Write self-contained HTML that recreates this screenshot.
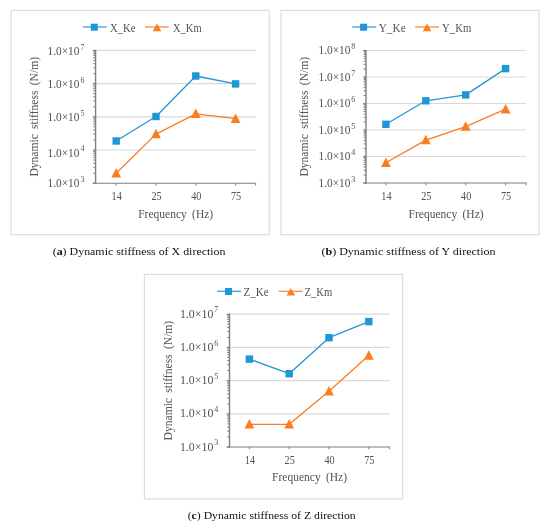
<!DOCTYPE html>
<html><head><meta charset="utf-8"><title>Dynamic stiffness</title>
<style>html,body{margin:0;padding:0;background:#fff}svg{display:block;font-family:"Liberation Serif", serif}</style></head>
<body><svg width="550" height="529" viewBox="0 0 550 529">
<rect width="550" height="529" fill="#fff"/>
<rect x="11.1" y="10.4" width="258.09999999999997" height="224.29999999999998" fill="#fff" stroke="#dcdcdc" stroke-width="1.15"/>
<line x1="95.6" y1="50.40" x2="255.6" y2="50.40" stroke="#d9d9d9" stroke-width="1.2"/>
<line x1="95.6" y1="83.60" x2="255.6" y2="83.60" stroke="#d9d9d9" stroke-width="1.2"/>
<line x1="95.6" y1="116.80" x2="255.6" y2="116.80" stroke="#d9d9d9" stroke-width="1.2"/>
<line x1="95.6" y1="150.00" x2="255.6" y2="150.00" stroke="#d9d9d9" stroke-width="1.2"/>
<line x1="93.3" y1="173.21" x2="95.6" y2="173.21" stroke="#7f7f7f" stroke-width="1.05"/>
<line x1="93.3" y1="167.36" x2="95.6" y2="167.36" stroke="#7f7f7f" stroke-width="1.05"/>
<line x1="93.3" y1="163.21" x2="95.6" y2="163.21" stroke="#7f7f7f" stroke-width="1.05"/>
<line x1="93.3" y1="159.99" x2="95.6" y2="159.99" stroke="#7f7f7f" stroke-width="1.05"/>
<line x1="93.3" y1="157.37" x2="95.6" y2="157.37" stroke="#7f7f7f" stroke-width="1.05"/>
<line x1="93.3" y1="155.14" x2="95.6" y2="155.14" stroke="#7f7f7f" stroke-width="1.05"/>
<line x1="93.3" y1="153.22" x2="95.6" y2="153.22" stroke="#7f7f7f" stroke-width="1.05"/>
<line x1="93.3" y1="151.52" x2="95.6" y2="151.52" stroke="#7f7f7f" stroke-width="1.05"/>
<line x1="93.3" y1="140.01" x2="95.6" y2="140.01" stroke="#7f7f7f" stroke-width="1.05"/>
<line x1="93.3" y1="134.16" x2="95.6" y2="134.16" stroke="#7f7f7f" stroke-width="1.05"/>
<line x1="93.3" y1="130.01" x2="95.6" y2="130.01" stroke="#7f7f7f" stroke-width="1.05"/>
<line x1="93.3" y1="126.79" x2="95.6" y2="126.79" stroke="#7f7f7f" stroke-width="1.05"/>
<line x1="93.3" y1="124.17" x2="95.6" y2="124.17" stroke="#7f7f7f" stroke-width="1.05"/>
<line x1="93.3" y1="121.94" x2="95.6" y2="121.94" stroke="#7f7f7f" stroke-width="1.05"/>
<line x1="93.3" y1="120.02" x2="95.6" y2="120.02" stroke="#7f7f7f" stroke-width="1.05"/>
<line x1="93.3" y1="118.32" x2="95.6" y2="118.32" stroke="#7f7f7f" stroke-width="1.05"/>
<line x1="93.3" y1="106.81" x2="95.6" y2="106.81" stroke="#7f7f7f" stroke-width="1.05"/>
<line x1="93.3" y1="100.96" x2="95.6" y2="100.96" stroke="#7f7f7f" stroke-width="1.05"/>
<line x1="93.3" y1="96.81" x2="95.6" y2="96.81" stroke="#7f7f7f" stroke-width="1.05"/>
<line x1="93.3" y1="93.59" x2="95.6" y2="93.59" stroke="#7f7f7f" stroke-width="1.05"/>
<line x1="93.3" y1="90.97" x2="95.6" y2="90.97" stroke="#7f7f7f" stroke-width="1.05"/>
<line x1="93.3" y1="88.74" x2="95.6" y2="88.74" stroke="#7f7f7f" stroke-width="1.05"/>
<line x1="93.3" y1="86.82" x2="95.6" y2="86.82" stroke="#7f7f7f" stroke-width="1.05"/>
<line x1="93.3" y1="85.12" x2="95.6" y2="85.12" stroke="#7f7f7f" stroke-width="1.05"/>
<line x1="93.3" y1="73.61" x2="95.6" y2="73.61" stroke="#7f7f7f" stroke-width="1.05"/>
<line x1="93.3" y1="67.76" x2="95.6" y2="67.76" stroke="#7f7f7f" stroke-width="1.05"/>
<line x1="93.3" y1="63.61" x2="95.6" y2="63.61" stroke="#7f7f7f" stroke-width="1.05"/>
<line x1="93.3" y1="60.39" x2="95.6" y2="60.39" stroke="#7f7f7f" stroke-width="1.05"/>
<line x1="93.3" y1="57.77" x2="95.6" y2="57.77" stroke="#7f7f7f" stroke-width="1.05"/>
<line x1="93.3" y1="55.54" x2="95.6" y2="55.54" stroke="#7f7f7f" stroke-width="1.05"/>
<line x1="93.3" y1="53.62" x2="95.6" y2="53.62" stroke="#7f7f7f" stroke-width="1.05"/>
<line x1="93.3" y1="51.92" x2="95.6" y2="51.92" stroke="#7f7f7f" stroke-width="1.05"/>
<line x1="92.8" y1="50.40" x2="95.6" y2="50.40" stroke="#7f7f7f" stroke-width="1.2"/>
<line x1="92.8" y1="83.60" x2="95.6" y2="83.60" stroke="#7f7f7f" stroke-width="1.2"/>
<line x1="92.8" y1="116.80" x2="95.6" y2="116.80" stroke="#7f7f7f" stroke-width="1.2"/>
<line x1="92.8" y1="150.00" x2="95.6" y2="150.00" stroke="#7f7f7f" stroke-width="1.2"/>
<line x1="92.8" y1="183.20" x2="95.6" y2="183.20" stroke="#7f7f7f" stroke-width="1.2"/>
<line x1="95.6" y1="49.9" x2="95.6" y2="183.7" stroke="#7f7f7f" stroke-width="1.4"/>
<line x1="93.0" y1="183.2" x2="256.1" y2="183.2" stroke="#7f7f7f" stroke-width="1.1"/>
<line x1="116.2" y1="183.2" x2="116.2" y2="185.5" stroke="#7f7f7f" stroke-width="1"/>
<line x1="156.0" y1="183.2" x2="156.0" y2="185.5" stroke="#7f7f7f" stroke-width="1"/>
<line x1="195.8" y1="183.2" x2="195.8" y2="185.5" stroke="#7f7f7f" stroke-width="1"/>
<line x1="235.6" y1="183.2" x2="235.6" y2="185.5" stroke="#7f7f7f" stroke-width="1"/>
<line x1="255.6" y1="183.2" x2="255.6" y2="185.5" stroke="#7f7f7f" stroke-width="1"/>
<text x="47.50" y="54.90" font-size="12.9" fill="#525252" textLength="32" lengthAdjust="spacingAndGlyphs">1.0×10</text>
<text x="80.40" y="49.60" font-size="8" fill="#525252">7</text>
<text x="47.50" y="88.00" font-size="12.9" fill="#525252" textLength="32" lengthAdjust="spacingAndGlyphs">1.0×10</text>
<text x="80.40" y="82.70" font-size="8" fill="#525252">6</text>
<text x="47.50" y="120.90" font-size="12.9" fill="#525252" textLength="32" lengthAdjust="spacingAndGlyphs">1.0×10</text>
<text x="80.40" y="115.60" font-size="8" fill="#525252">5</text>
<text x="47.50" y="156.50" font-size="12.9" fill="#525252" textLength="32" lengthAdjust="spacingAndGlyphs">1.0×10</text>
<text x="80.40" y="151.20" font-size="8" fill="#525252">4</text>
<text x="47.50" y="187.30" font-size="12.9" fill="#525252" textLength="32" lengthAdjust="spacingAndGlyphs">1.0×10</text>
<text x="80.40" y="182.00" font-size="8" fill="#525252">3</text>
<text x="116.7" y="200.29999999999998" text-anchor="middle" font-size="12.8" textLength="10.2" lengthAdjust="spacingAndGlyphs" fill="#525252">14</text>
<text x="156.5" y="200.29999999999998" text-anchor="middle" font-size="12.8" textLength="10.2" lengthAdjust="spacingAndGlyphs" fill="#525252">25</text>
<text x="196.3" y="200.29999999999998" text-anchor="middle" font-size="12.8" textLength="10.2" lengthAdjust="spacingAndGlyphs" fill="#525252">40</text>
<text x="236.1" y="200.29999999999998" text-anchor="middle" font-size="12.8" textLength="10.2" lengthAdjust="spacingAndGlyphs" fill="#525252">75</text>
<text x="175.7" y="217.79999999999998" text-anchor="middle" font-size="12" fill="#525252" word-spacing="2.5" textLength="75" lengthAdjust="spacingAndGlyphs">Frequency (Hz)</text>
<text transform="translate(38.199999999999996,116.8) rotate(-90)" text-anchor="middle" font-size="12" fill="#525252" word-spacing="2.5" textLength="119.6" lengthAdjust="spacingAndGlyphs">Dynamic stiffness (N/m)</text>
<polyline points="116.20,141.00 156.00,116.50 195.80,76.00 235.60,83.90" fill="none" stroke="#1f96d6" stroke-width="1.3" stroke-linejoin="round"/>
<rect x="112.50" y="137.30" width="7.4" height="7.4" fill="#1f96d6"/>
<rect x="152.30" y="112.80" width="7.4" height="7.4" fill="#1f96d6"/>
<rect x="192.10" y="72.30" width="7.4" height="7.4" fill="#1f96d6"/>
<rect x="231.90" y="80.20" width="7.4" height="7.4" fill="#1f96d6"/>
<polyline points="116.20,173.20 156.00,134.10 195.80,113.90 235.60,118.70" fill="none" stroke="#f97d22" stroke-width="1.3" stroke-linejoin="round"/>
<polygon points="116.20,167.90 121.10,177.40 111.30,177.40" fill="#f97d22"/>
<polygon points="156.00,128.80 160.90,138.30 151.10,138.30" fill="#f97d22"/>
<polygon points="195.80,108.60 200.70,118.10 190.90,118.10" fill="#f97d22"/>
<polygon points="235.60,113.40 240.50,122.90 230.70,122.90" fill="#f97d22"/>
<line x1="83" y1="27" x2="106.8" y2="27" stroke="#1f96d6" stroke-width="1.15"/>
<rect x="90.80" y="23.70" width="7" height="7" fill="#1f96d6"/>
<text x="109.9" y="31.7" font-size="12" fill="#525252" textLength="25.5" lengthAdjust="spacingAndGlyphs">X_Ke</text>
<line x1="145" y1="27" x2="168.9" y2="27" stroke="#f97d22" stroke-width="1.15"/>
<polygon points="157.00,23.60 161.30,31.20 152.70,31.20" fill="#f97d22"/>
<text x="172.9" y="31.7" font-size="12" fill="#525252" textLength="28.7" lengthAdjust="spacingAndGlyphs">X_Km</text>
<rect x="281" y="10.4" width="258" height="224.29999999999998" fill="#fff" stroke="#dcdcdc" stroke-width="1.15"/>
<line x1="366" y1="50.50" x2="526" y2="50.50" stroke="#d9d9d9" stroke-width="1.2"/>
<line x1="366" y1="77.00" x2="526" y2="77.00" stroke="#d9d9d9" stroke-width="1.2"/>
<line x1="366" y1="103.50" x2="526" y2="103.50" stroke="#d9d9d9" stroke-width="1.2"/>
<line x1="366" y1="130.00" x2="526" y2="130.00" stroke="#d9d9d9" stroke-width="1.2"/>
<line x1="366" y1="156.50" x2="526" y2="156.50" stroke="#d9d9d9" stroke-width="1.2"/>
<line x1="363.7" y1="175.02" x2="366" y2="175.02" stroke="#7f7f7f" stroke-width="1.05"/>
<line x1="363.7" y1="170.36" x2="366" y2="170.36" stroke="#7f7f7f" stroke-width="1.05"/>
<line x1="363.7" y1="167.05" x2="366" y2="167.05" stroke="#7f7f7f" stroke-width="1.05"/>
<line x1="363.7" y1="164.48" x2="366" y2="164.48" stroke="#7f7f7f" stroke-width="1.05"/>
<line x1="363.7" y1="162.38" x2="366" y2="162.38" stroke="#7f7f7f" stroke-width="1.05"/>
<line x1="363.7" y1="160.60" x2="366" y2="160.60" stroke="#7f7f7f" stroke-width="1.05"/>
<line x1="363.7" y1="159.07" x2="366" y2="159.07" stroke="#7f7f7f" stroke-width="1.05"/>
<line x1="363.7" y1="157.71" x2="366" y2="157.71" stroke="#7f7f7f" stroke-width="1.05"/>
<line x1="363.7" y1="148.52" x2="366" y2="148.52" stroke="#7f7f7f" stroke-width="1.05"/>
<line x1="363.7" y1="143.86" x2="366" y2="143.86" stroke="#7f7f7f" stroke-width="1.05"/>
<line x1="363.7" y1="140.55" x2="366" y2="140.55" stroke="#7f7f7f" stroke-width="1.05"/>
<line x1="363.7" y1="137.98" x2="366" y2="137.98" stroke="#7f7f7f" stroke-width="1.05"/>
<line x1="363.7" y1="135.88" x2="366" y2="135.88" stroke="#7f7f7f" stroke-width="1.05"/>
<line x1="363.7" y1="134.10" x2="366" y2="134.10" stroke="#7f7f7f" stroke-width="1.05"/>
<line x1="363.7" y1="132.57" x2="366" y2="132.57" stroke="#7f7f7f" stroke-width="1.05"/>
<line x1="363.7" y1="131.21" x2="366" y2="131.21" stroke="#7f7f7f" stroke-width="1.05"/>
<line x1="363.7" y1="122.02" x2="366" y2="122.02" stroke="#7f7f7f" stroke-width="1.05"/>
<line x1="363.7" y1="117.36" x2="366" y2="117.36" stroke="#7f7f7f" stroke-width="1.05"/>
<line x1="363.7" y1="114.05" x2="366" y2="114.05" stroke="#7f7f7f" stroke-width="1.05"/>
<line x1="363.7" y1="111.48" x2="366" y2="111.48" stroke="#7f7f7f" stroke-width="1.05"/>
<line x1="363.7" y1="109.38" x2="366" y2="109.38" stroke="#7f7f7f" stroke-width="1.05"/>
<line x1="363.7" y1="107.60" x2="366" y2="107.60" stroke="#7f7f7f" stroke-width="1.05"/>
<line x1="363.7" y1="106.07" x2="366" y2="106.07" stroke="#7f7f7f" stroke-width="1.05"/>
<line x1="363.7" y1="104.71" x2="366" y2="104.71" stroke="#7f7f7f" stroke-width="1.05"/>
<line x1="363.7" y1="95.52" x2="366" y2="95.52" stroke="#7f7f7f" stroke-width="1.05"/>
<line x1="363.7" y1="90.86" x2="366" y2="90.86" stroke="#7f7f7f" stroke-width="1.05"/>
<line x1="363.7" y1="87.55" x2="366" y2="87.55" stroke="#7f7f7f" stroke-width="1.05"/>
<line x1="363.7" y1="84.98" x2="366" y2="84.98" stroke="#7f7f7f" stroke-width="1.05"/>
<line x1="363.7" y1="82.88" x2="366" y2="82.88" stroke="#7f7f7f" stroke-width="1.05"/>
<line x1="363.7" y1="81.10" x2="366" y2="81.10" stroke="#7f7f7f" stroke-width="1.05"/>
<line x1="363.7" y1="79.57" x2="366" y2="79.57" stroke="#7f7f7f" stroke-width="1.05"/>
<line x1="363.7" y1="78.21" x2="366" y2="78.21" stroke="#7f7f7f" stroke-width="1.05"/>
<line x1="363.7" y1="69.02" x2="366" y2="69.02" stroke="#7f7f7f" stroke-width="1.05"/>
<line x1="363.7" y1="64.36" x2="366" y2="64.36" stroke="#7f7f7f" stroke-width="1.05"/>
<line x1="363.7" y1="61.05" x2="366" y2="61.05" stroke="#7f7f7f" stroke-width="1.05"/>
<line x1="363.7" y1="58.48" x2="366" y2="58.48" stroke="#7f7f7f" stroke-width="1.05"/>
<line x1="363.7" y1="56.38" x2="366" y2="56.38" stroke="#7f7f7f" stroke-width="1.05"/>
<line x1="363.7" y1="54.60" x2="366" y2="54.60" stroke="#7f7f7f" stroke-width="1.05"/>
<line x1="363.7" y1="53.07" x2="366" y2="53.07" stroke="#7f7f7f" stroke-width="1.05"/>
<line x1="363.7" y1="51.71" x2="366" y2="51.71" stroke="#7f7f7f" stroke-width="1.05"/>
<line x1="363.2" y1="50.50" x2="366" y2="50.50" stroke="#7f7f7f" stroke-width="1.2"/>
<line x1="363.2" y1="77.00" x2="366" y2="77.00" stroke="#7f7f7f" stroke-width="1.2"/>
<line x1="363.2" y1="103.50" x2="366" y2="103.50" stroke="#7f7f7f" stroke-width="1.2"/>
<line x1="363.2" y1="130.00" x2="366" y2="130.00" stroke="#7f7f7f" stroke-width="1.2"/>
<line x1="363.2" y1="156.50" x2="366" y2="156.50" stroke="#7f7f7f" stroke-width="1.2"/>
<line x1="363.2" y1="183.00" x2="366" y2="183.00" stroke="#7f7f7f" stroke-width="1.2"/>
<line x1="366" y1="50.0" x2="366" y2="183.5" stroke="#7f7f7f" stroke-width="1.4"/>
<line x1="363.4" y1="183" x2="526.5" y2="183" stroke="#7f7f7f" stroke-width="1.1"/>
<line x1="385.9" y1="183" x2="385.9" y2="185.3" stroke="#7f7f7f" stroke-width="1"/>
<line x1="425.79999999999995" y1="183" x2="425.79999999999995" y2="185.3" stroke="#7f7f7f" stroke-width="1"/>
<line x1="465.7" y1="183" x2="465.7" y2="185.3" stroke="#7f7f7f" stroke-width="1"/>
<line x1="505.59999999999997" y1="183" x2="505.59999999999997" y2="185.3" stroke="#7f7f7f" stroke-width="1"/>
<line x1="526" y1="183" x2="526" y2="185.3" stroke="#7f7f7f" stroke-width="1"/>
<text x="318.50" y="54.30" font-size="12.9" fill="#525252" textLength="32" lengthAdjust="spacingAndGlyphs">1.0×10</text>
<text x="351.30" y="49.00" font-size="8" fill="#525252">8</text>
<text x="318.50" y="80.80" font-size="12.9" fill="#525252" textLength="32" lengthAdjust="spacingAndGlyphs">1.0×10</text>
<text x="351.30" y="75.50" font-size="8" fill="#525252">7</text>
<text x="318.50" y="107.30" font-size="12.9" fill="#525252" textLength="32" lengthAdjust="spacingAndGlyphs">1.0×10</text>
<text x="351.30" y="102.00" font-size="8" fill="#525252">6</text>
<text x="318.50" y="133.80" font-size="12.9" fill="#525252" textLength="32" lengthAdjust="spacingAndGlyphs">1.0×10</text>
<text x="351.30" y="128.50" font-size="8" fill="#525252">5</text>
<text x="318.50" y="160.30" font-size="12.9" fill="#525252" textLength="32" lengthAdjust="spacingAndGlyphs">1.0×10</text>
<text x="351.30" y="155.00" font-size="8" fill="#525252">4</text>
<text x="318.50" y="186.80" font-size="12.9" fill="#525252" textLength="32" lengthAdjust="spacingAndGlyphs">1.0×10</text>
<text x="351.30" y="181.50" font-size="8" fill="#525252">3</text>
<text x="386.4" y="200.1" text-anchor="middle" font-size="12.8" textLength="10.2" lengthAdjust="spacingAndGlyphs" fill="#525252">14</text>
<text x="426.29999999999995" y="200.1" text-anchor="middle" font-size="12.8" textLength="10.2" lengthAdjust="spacingAndGlyphs" fill="#525252">25</text>
<text x="466.2" y="200.1" text-anchor="middle" font-size="12.8" textLength="10.2" lengthAdjust="spacingAndGlyphs" fill="#525252">40</text>
<text x="506.09999999999997" y="200.1" text-anchor="middle" font-size="12.8" textLength="10.2" lengthAdjust="spacingAndGlyphs" fill="#525252">75</text>
<text x="446.1" y="217.6" text-anchor="middle" font-size="12" fill="#525252" word-spacing="2.5" textLength="75" lengthAdjust="spacingAndGlyphs">Frequency (Hz)</text>
<text transform="translate(307.8,116.75) rotate(-90)" text-anchor="middle" font-size="12" fill="#525252" word-spacing="2.5" textLength="119.6" lengthAdjust="spacingAndGlyphs">Dynamic stiffness (N/m)</text>
<polyline points="385.90,124.30 425.80,100.80 465.70,94.90 505.60,68.60" fill="none" stroke="#1f96d6" stroke-width="1.3" stroke-linejoin="round"/>
<rect x="382.20" y="120.60" width="7.4" height="7.4" fill="#1f96d6"/>
<rect x="422.10" y="97.10" width="7.4" height="7.4" fill="#1f96d6"/>
<rect x="462.00" y="91.20" width="7.4" height="7.4" fill="#1f96d6"/>
<rect x="501.90" y="64.90" width="7.4" height="7.4" fill="#1f96d6"/>
<polyline points="385.90,162.70 425.80,140.10 465.70,126.60 505.60,109.20" fill="none" stroke="#f97d22" stroke-width="1.3" stroke-linejoin="round"/>
<polygon points="385.90,157.40 390.80,166.90 381.00,166.90" fill="#f97d22"/>
<polygon points="425.80,134.80 430.70,144.30 420.90,144.30" fill="#f97d22"/>
<polygon points="465.70,121.30 470.60,130.80 460.80,130.80" fill="#f97d22"/>
<polygon points="505.60,103.90 510.50,113.40 500.70,113.40" fill="#f97d22"/>
<line x1="352.3" y1="27" x2="376.1" y2="27" stroke="#1f96d6" stroke-width="1.15"/>
<rect x="360.10" y="23.70" width="7" height="7" fill="#1f96d6"/>
<text x="378.7" y="31.7" font-size="12" fill="#525252" textLength="27" lengthAdjust="spacingAndGlyphs">Y_Ke</text>
<line x1="415.1" y1="27" x2="439.0" y2="27" stroke="#f97d22" stroke-width="1.15"/>
<polygon points="427.10,23.60 431.40,31.20 422.80,31.20" fill="#f97d22"/>
<text x="442.1" y="31.7" font-size="12" fill="#525252" textLength="29.1" lengthAdjust="spacingAndGlyphs">Y_Km</text>
<rect x="144.4" y="274.4" width="258.20000000000005" height="224.5" fill="#fff" stroke="#dcdcdc" stroke-width="1.15"/>
<line x1="229.5" y1="314.20" x2="389.4" y2="314.20" stroke="#d9d9d9" stroke-width="1.2"/>
<line x1="229.5" y1="347.40" x2="389.4" y2="347.40" stroke="#d9d9d9" stroke-width="1.2"/>
<line x1="229.5" y1="380.60" x2="389.4" y2="380.60" stroke="#d9d9d9" stroke-width="1.2"/>
<line x1="229.5" y1="413.80" x2="389.4" y2="413.80" stroke="#d9d9d9" stroke-width="1.2"/>
<line x1="227.2" y1="437.01" x2="229.5" y2="437.01" stroke="#7f7f7f" stroke-width="1.05"/>
<line x1="227.2" y1="431.16" x2="229.5" y2="431.16" stroke="#7f7f7f" stroke-width="1.05"/>
<line x1="227.2" y1="427.01" x2="229.5" y2="427.01" stroke="#7f7f7f" stroke-width="1.05"/>
<line x1="227.2" y1="423.79" x2="229.5" y2="423.79" stroke="#7f7f7f" stroke-width="1.05"/>
<line x1="227.2" y1="421.17" x2="229.5" y2="421.17" stroke="#7f7f7f" stroke-width="1.05"/>
<line x1="227.2" y1="418.94" x2="229.5" y2="418.94" stroke="#7f7f7f" stroke-width="1.05"/>
<line x1="227.2" y1="417.02" x2="229.5" y2="417.02" stroke="#7f7f7f" stroke-width="1.05"/>
<line x1="227.2" y1="415.32" x2="229.5" y2="415.32" stroke="#7f7f7f" stroke-width="1.05"/>
<line x1="227.2" y1="403.81" x2="229.5" y2="403.81" stroke="#7f7f7f" stroke-width="1.05"/>
<line x1="227.2" y1="397.96" x2="229.5" y2="397.96" stroke="#7f7f7f" stroke-width="1.05"/>
<line x1="227.2" y1="393.81" x2="229.5" y2="393.81" stroke="#7f7f7f" stroke-width="1.05"/>
<line x1="227.2" y1="390.59" x2="229.5" y2="390.59" stroke="#7f7f7f" stroke-width="1.05"/>
<line x1="227.2" y1="387.97" x2="229.5" y2="387.97" stroke="#7f7f7f" stroke-width="1.05"/>
<line x1="227.2" y1="385.74" x2="229.5" y2="385.74" stroke="#7f7f7f" stroke-width="1.05"/>
<line x1="227.2" y1="383.82" x2="229.5" y2="383.82" stroke="#7f7f7f" stroke-width="1.05"/>
<line x1="227.2" y1="382.12" x2="229.5" y2="382.12" stroke="#7f7f7f" stroke-width="1.05"/>
<line x1="227.2" y1="370.61" x2="229.5" y2="370.61" stroke="#7f7f7f" stroke-width="1.05"/>
<line x1="227.2" y1="364.76" x2="229.5" y2="364.76" stroke="#7f7f7f" stroke-width="1.05"/>
<line x1="227.2" y1="360.61" x2="229.5" y2="360.61" stroke="#7f7f7f" stroke-width="1.05"/>
<line x1="227.2" y1="357.39" x2="229.5" y2="357.39" stroke="#7f7f7f" stroke-width="1.05"/>
<line x1="227.2" y1="354.77" x2="229.5" y2="354.77" stroke="#7f7f7f" stroke-width="1.05"/>
<line x1="227.2" y1="352.54" x2="229.5" y2="352.54" stroke="#7f7f7f" stroke-width="1.05"/>
<line x1="227.2" y1="350.62" x2="229.5" y2="350.62" stroke="#7f7f7f" stroke-width="1.05"/>
<line x1="227.2" y1="348.92" x2="229.5" y2="348.92" stroke="#7f7f7f" stroke-width="1.05"/>
<line x1="227.2" y1="337.41" x2="229.5" y2="337.41" stroke="#7f7f7f" stroke-width="1.05"/>
<line x1="227.2" y1="331.56" x2="229.5" y2="331.56" stroke="#7f7f7f" stroke-width="1.05"/>
<line x1="227.2" y1="327.41" x2="229.5" y2="327.41" stroke="#7f7f7f" stroke-width="1.05"/>
<line x1="227.2" y1="324.19" x2="229.5" y2="324.19" stroke="#7f7f7f" stroke-width="1.05"/>
<line x1="227.2" y1="321.57" x2="229.5" y2="321.57" stroke="#7f7f7f" stroke-width="1.05"/>
<line x1="227.2" y1="319.34" x2="229.5" y2="319.34" stroke="#7f7f7f" stroke-width="1.05"/>
<line x1="227.2" y1="317.42" x2="229.5" y2="317.42" stroke="#7f7f7f" stroke-width="1.05"/>
<line x1="227.2" y1="315.72" x2="229.5" y2="315.72" stroke="#7f7f7f" stroke-width="1.05"/>
<line x1="226.7" y1="314.20" x2="229.5" y2="314.20" stroke="#7f7f7f" stroke-width="1.2"/>
<line x1="226.7" y1="347.40" x2="229.5" y2="347.40" stroke="#7f7f7f" stroke-width="1.2"/>
<line x1="226.7" y1="380.60" x2="229.5" y2="380.60" stroke="#7f7f7f" stroke-width="1.2"/>
<line x1="226.7" y1="413.80" x2="229.5" y2="413.80" stroke="#7f7f7f" stroke-width="1.2"/>
<line x1="226.7" y1="447.00" x2="229.5" y2="447.00" stroke="#7f7f7f" stroke-width="1.2"/>
<line x1="229.5" y1="313.7" x2="229.5" y2="447.5" stroke="#7f7f7f" stroke-width="1.4"/>
<line x1="226.9" y1="447.0" x2="389.9" y2="447.0" stroke="#7f7f7f" stroke-width="1.1"/>
<line x1="249.4" y1="447.0" x2="249.4" y2="449.3" stroke="#7f7f7f" stroke-width="1"/>
<line x1="289.2" y1="447.0" x2="289.2" y2="449.3" stroke="#7f7f7f" stroke-width="1"/>
<line x1="329.0" y1="447.0" x2="329.0" y2="449.3" stroke="#7f7f7f" stroke-width="1"/>
<line x1="368.8" y1="447.0" x2="368.8" y2="449.3" stroke="#7f7f7f" stroke-width="1"/>
<line x1="389.4" y1="447.0" x2="389.4" y2="449.3" stroke="#7f7f7f" stroke-width="1"/>
<text x="179.90" y="317.70" font-size="12.9" fill="#525252" textLength="33.5" lengthAdjust="spacingAndGlyphs">1.0×10</text>
<text x="214.30" y="312.40" font-size="8" fill="#525252">7</text>
<text x="179.90" y="350.90" font-size="12.9" fill="#525252" textLength="33.5" lengthAdjust="spacingAndGlyphs">1.0×10</text>
<text x="214.30" y="345.60" font-size="8" fill="#525252">6</text>
<text x="179.90" y="384.10" font-size="12.9" fill="#525252" textLength="33.5" lengthAdjust="spacingAndGlyphs">1.0×10</text>
<text x="214.30" y="378.80" font-size="8" fill="#525252">5</text>
<text x="179.90" y="417.30" font-size="12.9" fill="#525252" textLength="33.5" lengthAdjust="spacingAndGlyphs">1.0×10</text>
<text x="214.30" y="412.00" font-size="8" fill="#525252">4</text>
<text x="179.90" y="450.50" font-size="12.9" fill="#525252" textLength="33.5" lengthAdjust="spacingAndGlyphs">1.0×10</text>
<text x="214.30" y="445.20" font-size="8" fill="#525252">3</text>
<text x="249.9" y="464.1" text-anchor="middle" font-size="12.8" textLength="10.2" lengthAdjust="spacingAndGlyphs" fill="#525252">14</text>
<text x="289.7" y="464.1" text-anchor="middle" font-size="12.8" textLength="10.2" lengthAdjust="spacingAndGlyphs" fill="#525252">25</text>
<text x="329.5" y="464.1" text-anchor="middle" font-size="12.8" textLength="10.2" lengthAdjust="spacingAndGlyphs" fill="#525252">40</text>
<text x="369.3" y="464.1" text-anchor="middle" font-size="12.8" textLength="10.2" lengthAdjust="spacingAndGlyphs" fill="#525252">75</text>
<text x="309.55" y="481.20000000000005" text-anchor="middle" font-size="12" fill="#525252" word-spacing="2.5" textLength="75" lengthAdjust="spacingAndGlyphs">Frequency (Hz)</text>
<text transform="translate(172.1,380.6) rotate(-90)" text-anchor="middle" font-size="12" fill="#525252" word-spacing="2.5" textLength="119.6" lengthAdjust="spacingAndGlyphs">Dynamic stiffness (N/m)</text>
<polyline points="249.40,359.10 289.20,373.70 329.00,337.70 368.80,321.60" fill="none" stroke="#1f96d6" stroke-width="1.3" stroke-linejoin="round"/>
<rect x="245.70" y="355.40" width="7.4" height="7.4" fill="#1f96d6"/>
<rect x="285.50" y="370.00" width="7.4" height="7.4" fill="#1f96d6"/>
<rect x="325.30" y="334.00" width="7.4" height="7.4" fill="#1f96d6"/>
<rect x="365.10" y="317.90" width="7.4" height="7.4" fill="#1f96d6"/>
<polyline points="249.40,424.30 289.20,424.30 329.00,391.30 368.80,355.60" fill="none" stroke="#f97d22" stroke-width="1.3" stroke-linejoin="round"/>
<polygon points="249.40,419.00 254.30,428.50 244.50,428.50" fill="#f97d22"/>
<polygon points="289.20,419.00 294.10,428.50 284.30,428.50" fill="#f97d22"/>
<polygon points="329.00,386.00 333.90,395.50 324.10,395.50" fill="#f97d22"/>
<polygon points="368.80,350.30 373.70,359.80 363.90,359.80" fill="#f97d22"/>
<line x1="217.2" y1="291.3" x2="241.0" y2="291.3" stroke="#1f96d6" stroke-width="1.15"/>
<rect x="225.00" y="288.00" width="7" height="7" fill="#1f96d6"/>
<text x="243.5" y="296.0" font-size="12" fill="#525252" textLength="25.2" lengthAdjust="spacingAndGlyphs">Z_Ke</text>
<line x1="278.8" y1="291.3" x2="302.7" y2="291.3" stroke="#f97d22" stroke-width="1.15"/>
<polygon points="290.80,287.90 295.10,295.50 286.50,295.50" fill="#f97d22"/>
<text x="304.5" y="296.0" font-size="12" fill="#525252" textLength="27.8" lengthAdjust="spacingAndGlyphs">Z_Km</text>
<text x="139.1" y="255.4" text-anchor="middle" font-size="11.4" fill="#111" textLength="172.8" lengthAdjust="spacingAndGlyphs">(<tspan font-weight="bold">a</tspan>) Dynamic stiffness of X direction</text>
<text x="408.5" y="255.4" text-anchor="middle" font-size="11.4" fill="#111" textLength="174" lengthAdjust="spacingAndGlyphs">(<tspan font-weight="bold">b</tspan>) Dynamic stiffness of Y direction</text>
<text x="271.7" y="519.3" text-anchor="middle" font-size="11.4" fill="#111" textLength="168" lengthAdjust="spacingAndGlyphs">(<tspan font-weight="bold">c</tspan>) Dynamic stiffness of Z direction</text>
</svg></body></html>
